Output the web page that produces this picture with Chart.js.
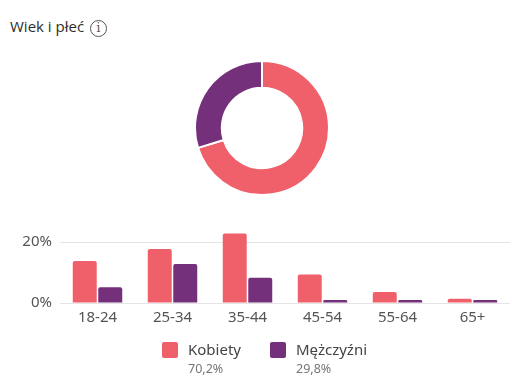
<!DOCTYPE html>
<html>
<head>
<meta charset="utf-8">
<script src="https://cdn.jsdelivr.net/npm/chart.js@4"></script>
<style>
  body { margin: 0; background: #fff; font-family: "Noto Sans", "Open Sans", sans-serif; }
  #wrap { position: relative; width: 512px; height: 392px; overflow: hidden; }
  #title { position: absolute; left: 10px; top: 16px; font-family: "Open Sans", sans-serif; font-size: 15px; font-weight: 400; color: #2e2e2e; }
  #info { position: absolute; left: 90px; top: 20px; width: 15px; height: 15px; border: 1.3px solid #555;
          border-radius: 50%; font-size: 12px; line-height: 15px; text-align: center; color: #555; font-family: "DejaVu Serif", serif; }
  #donut-box { position: absolute; left: 194px; top: 60px; width: 136px; height: 136px; }
  #bar-box { position: absolute; left: 0; top: 210px; width: 512px; height: 130px; }
  .leg { position: absolute; top: 341px; }
  .sw { position: absolute; left: 0; top: 1px; width: 16px; height: 16px; border-radius: 2px; }
  .lab { position: absolute; left: 26px; top: -2px; font-size: 15px; color: #444; white-space: nowrap; }
  .pct { position: absolute; left: 26px; top: 19px; font-size: 12.5px; color: #777; white-space: nowrap; }
</style>
</head>
<body>
<div id="wrap">
  <div id="title">Wiek i płeć</div>
  <div id="info">i</div>
  <div id="donut-box"><canvas id="graph-donut"></canvas></div>
  <div id="bar-box"><canvas id="graph-bar"></canvas></div>
  <div class="leg" style="left:162px"><div class="sw" style="background:#f0606b"></div><div class="lab">Kobiety</div><div class="pct">70,2%</div></div>
  <div class="leg" style="left:270px"><div class="sw" style="background:#74307a"></div><div class="lab">Mężczyźni</div><div class="pct">29,8%</div></div>
</div>
<script>
const genders = ['Kobiety', 'Mężczyźni'];
const genderShare = [70.2, 29.8];
const ageGroups = ['18-24', '25-34', '35-44', '45-54', '55-64', '65+'];
const women = [13.8, 17.8, 22.9, 9.4, 3.6, 1.4];
const men = [5.2, 12.8, 8.3, 1.0, 1.0, 1.0];
const yTicks = [0, 20];

const pink = '#f0606b';
const purple = '#74307a';

const gd = document.getElementById('graph-donut');
const gb = document.getElementById('graph-bar');

var ch_gd = new Chart(gd, {
    type: 'doughnut',
    data: {
        labels: genders,
        datasets: [{
            data: genderShare,
            backgroundColor: [pink, purple],
            borderColor: '#fff',
            borderWidth: 2
        }]
    },
    options: {
        responsive: true,
        maintainAspectRatio: false,
        animation: false,
        cutout: '60%',
        plugins: { legend: { display: false }, tooltip: { enabled: false } }
    }
});

var ch_gb = new Chart(gb, {
    type: 'bar',
    data: {
        labels: ageGroups,
        datasets: [
            { label: genders[0], data: women, backgroundColor: pink },
            { label: genders[1], data: men, backgroundColor: purple }
        ]
    },
    options: {
        responsive: true,
        maintainAspectRatio: false,
        animation: false,
        layout: { padding: { top: 0, right: 2, left: 0, bottom: 0 } },
        datasets: {
            bar: {
                categoryPercentage: 0.68,
                barPercentage: 0.94,
                borderRadius: { topLeft: 2, topRight: 2 },
                borderSkipped: 'bottom'
            }
        },
        plugins: { legend: { display: false }, tooltip: { enabled: false } },
        scales: {
            x: {
                grid: { display: false, drawTicks: false },
                border: { display: false },
                ticks: { color: '#555', font: { family: 'Noto Sans', size: 15 }, padding: 6 },
                afterFit: function(s) { s.height = 37; }
            },
            y: {
                min: 0,
                max: 25,
                afterBuildTicks: function(s) { s.ticks = yTicks.map(v => ({ value: v })); },
                grid: { color: '#e4e4e4', drawTicks: false },
                border: { display: false },
                ticks: {
                    color: '#555',
                    font: { family: 'Noto Sans', size: 15 },
                    padding: 8,
                    callback: v => v + '%'
                },
                afterFit: function(s) { s.width = 60; }
            }
        }
    }
});
</script>
</body>
</html>
